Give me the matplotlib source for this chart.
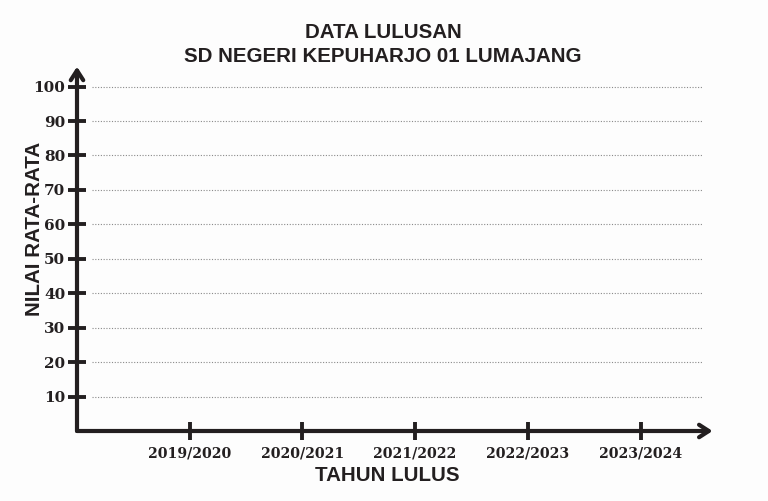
import matplotlib.pyplot as plt

# data (empty chart template: only the axes, no values)
tahun = ['2019/2020', '2020/2021', '2021/2022', '2022/2023', '2023/2024']
nilai_ticks = [10, 20, 30, 40, 50, 60, 70, 80, 90, 100]

ink = '#231f20'

fig = plt.figure(figsize=(7.68, 5.01), dpi=100)
fig.patch.set_facecolor('#fdfdfd')
ax = fig.add_axes([77 / 768, 70 / 501, 640 / 768, 369 / 501])
ax.set_facecolor('#fdfdfd')

x_pos = list(range(1, len(tahun) + 1))
ax.set_xlim(0, 640 / 112.7)
ax.set_ylim(0, 369 / 34.44 * 10)

for s in ax.spines.values():
    s.set_visible(False)

# dotted guide lines
ax.hlines(nilai_ticks, 0.13, 5.55, colors='#8a8a8a', linestyles=(0, (1, 1.5)), lw=0.8, zorder=1)

# axes with arrows
ax.annotate('', xy=(5.64, 0), xytext=(0, 0),
            arrowprops=dict(arrowstyle='->,head_length=0.7,head_width=0.45', lw=3, color=ink,
                            shrinkA=0, shrinkB=0), annotation_clip=False)
ax.annotate('', xy=(0, 105.8), xytext=(0, 0),
            arrowprops=dict(arrowstyle='->,head_length=0.7,head_width=0.45', lw=3, color=ink,
                            shrinkA=0, shrinkB=0), annotation_clip=False)

ax.set_xticks(x_pos)
ax.set_xticklabels(tahun, fontfamily='DejaVu Serif', fontweight='bold', fontsize=10.2, color=ink)
ax.set_yticks(nilai_ticks)
ax.set_yticklabels([str(v) for v in nilai_ticks], fontfamily='DejaVu Serif', fontweight='bold',
                   fontsize=11, color=ink)
ax.tick_params(axis='x', direction='inout', length=13, width=2.8, color=ink, pad=4.7)
ax.tick_params(axis='y', direction='inout', length=13, width=2.8, color=ink, pad=2)

lab_font = dict(fontfamily='Liberation Sans', fontweight='bold', fontsize=14.8, color=ink)
ax.set_ylabel('NILAI RATA-RATA', **lab_font)
ax.yaxis.set_label_coords(-0.051, 0.547)
ax.set_xlabel('TAHUN LULUS', **lab_font)
ax.xaxis.set_label_coords(0.484, -0.095)

fig.text(383 / 768, 1 - 33 / 501, 'DATA LULUSAN', ha='center', va='center', **lab_font)
fig.text(383 / 768, 1 - 57 / 501, 'SD NEGERI KEPUHARJO 01 LUMAJANG', ha='center', va='center', **lab_font)

fig.savefig('out.png', dpi=100, facecolor=fig.get_facecolor())
